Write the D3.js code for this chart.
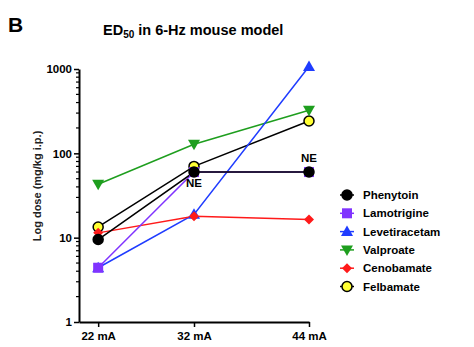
<!DOCTYPE html>
<html><head><meta charset="utf-8">
<script src="https://cdn.jsdelivr.net/npm/d3@7"></script>
<style>body{margin:0;background:#fff}svg{display:block}text{font-family:"Liberation Sans",Arial,sans-serif}</style>
</head><body>
<svg id="c" width="474" height="347"></svg>
<script>
const currents = [22, 32, 44];
const xTickLabels = ["22 mA", "32 mA", "44 mA"];
const yTicks = [1, 10, 100, 1000];
const seriesNames = ["Phenytoin", "Lamotrigine", "Levetiracetam", "Valproate", "Cenobamate", "Felbamate"];
const phenytoin = [9.5, 60, 60];
const lamotrigine = [4.4, 60, 60];
const levetiracetam = [4.4, 18.9, 1070];
const valproate = [43, 128, 325];
const cenobamate = [11.4, 18, 16.4];
const felbamate = [13.4, 70, 242];
const neLabels = [{x: 32, y: 60, pos: "below"}, {x: 44, y: 60, pos: "above"}];

const colors = {Phenytoin:"#000000", Lamotrigine:"#8033ff", Levetiracetam:"#1f3cff", Valproate:"#1e9e1e", Cenobamate:"#ff1a1a", Felbamate:"#ffff33"};
const shapes = {Phenytoin:"circle", Lamotrigine:"square", Levetiracetam:"triangleUp", Valproate:"triangleDown", Cenobamate:"diamond", Felbamate:"circle"};
const dataMap = {Phenytoin:phenytoin, Lamotrigine:lamotrigine, Levetiracetam:levetiracetam, Valproate:valproate, Cenobamate:cenobamate, Felbamate:felbamate};

const svg = d3.select("#c");
const x = d3.scaleLinear().domain([20, 44]).range([79, 309]);
const y = d3.scaleLog().domain([1, 1000]).range([322, 69]);

function marker(g, shape, color, cx, cy) {
  const stroke = (color === "#ffff33" || color === "#000000") ? "#000" : color;
  if (shape === "circle") {
    g.append("circle").attr("cx", cx).attr("cy", cy).attr("r", 5).attr("fill", color).attr("stroke", stroke).attr("stroke-width", 1.5);
  } else if (shape === "square") {
    g.append("rect").attr("x", cx-5).attr("y", cy-5).attr("width", 10).attr("height", 10).attr("fill", color);
  } else if (shape === "triangleUp") {
    g.append("path").attr("d", `M${cx},${cy-6}L${cx+6},${cy+4.5}L${cx-6},${cy+4.5}Z`).attr("fill", color);
  } else if (shape === "triangleDown") {
    g.append("path").attr("d", `M${cx},${cy+6}L${cx+6},${cy-4.5}L${cx-6},${cy-4.5}Z`).attr("fill", color);
  } else if (shape === "diamond") {
    g.append("path").attr("d", `M${cx},${cy-5}L${cx+5},${cy}L${cx},${cy+5}L${cx-5},${cy}Z`).attr("fill", color);
  }
}

// Axes
const yAxis = d3.axisLeft(y).tickValues(yTicks).tickFormat(d3.format("d")).tickSize(5).tickSizeOuter(0);
const gy = svg.append("g").attr("transform", "translate(79,0)").call(yAxis);
gy.select(".domain").attr("stroke-width", 2);
gy.selectAll(".tick line").attr("stroke-width", 1.5);
gy.selectAll(".tick text").attr("font-size", 11.5).attr("font-weight", "bold").attr("fill", "#000").attr("x", -7);
const minor = [];
for (let dec = 1; dec < 1000; dec *= 10) for (let k = 2; k <= 9; k++) minor.push(dec*k);
gy.selectAll(".minor").data(minor).enter().append("line").attr("class","minor")
  .attr("x1", 0).attr("x2", -3).attr("y1", d => y(d)).attr("y2", d => y(d)).attr("stroke", "#000").attr("stroke-width", 1.2);

const xAxis = d3.axisBottom(x).tickValues(currents).tickFormat((d,i) => xTickLabels[i]).tickSize(5).tickSizeOuter(0);
const gx = svg.append("g").attr("transform", "translate(0,322)").call(xAxis);
gx.select(".domain").attr("stroke-width", 2);
gx.selectAll(".tick line").attr("stroke-width", 1.5);
gx.selectAll(".tick text").attr("font-size", 11.5).attr("font-weight", "bold").attr("fill", "#000").attr("dy", "0.9em");

svg.append("text").attr("transform", "translate(41,186) rotate(-90)").attr("text-anchor", "middle")
  .attr("font-size", 11).attr("font-weight", "bold").attr("fill", "#222").text("Log dose (mg/kg i.p.)");

// Title
const t = svg.append("text").attr("x", 103).attr("y", 35).attr("font-size", 14.5).attr("font-weight", "bold");
t.append("tspan").text("ED");
t.append("tspan").attr("font-size", 10).attr("dy", 3).text("50");
t.append("tspan").attr("dy", -3).text(" in 6-Hz mouse model");
svg.append("text").attr("x", 8).attr("y", 32).attr("font-size", 21).attr("font-weight", "bold").text("B");

// Series
const drawOrder = ["Felbamate", "Valproate", "Levetiracetam", "Cenobamate", "Lamotrigine", "Phenytoin"];
const line = d3.line().x((d,i) => x(currents[i])).y(d => y(d));
const lineColor = n => n === "Felbamate" ? "#000" : colors[n];
drawOrder.forEach(n => {
  svg.append("path").attr("d", line(dataMap[n])).attr("fill", "none").attr("stroke", lineColor(n)).attr("stroke-width", 1.5);
});
drawOrder.forEach(n => {
  const g = svg.append("g");
  dataMap[n].forEach((v,i) => marker(g, shapes[n], colors[n], x(currents[i]), y(v)));
});

neLabels.forEach(l => {
  svg.append("text").attr("x", x(l.x)).attr("y", y(l.y) + (l.pos === "below" ? 15 : -10))
    .attr("text-anchor", "middle").attr("font-size", 11.5).attr("font-weight", "bold").text("NE");
});

// Legend
seriesNames.forEach((n, i) => {
  const ly = 195 + i*18.3;
  const g = svg.append("g");
  g.append("line").attr("x1", 340).attr("x2", 354).attr("y1", ly).attr("y2", ly).attr("stroke", lineColor(n)).attr("stroke-width", 1.5);
  marker(g, shapes[n], colors[n], 347, ly);
  g.append("text").attr("x", 363).attr("y", ly + 4).attr("font-size", 11.5).attr("font-weight", "bold").text(n);
});
</script>
</body></html>
